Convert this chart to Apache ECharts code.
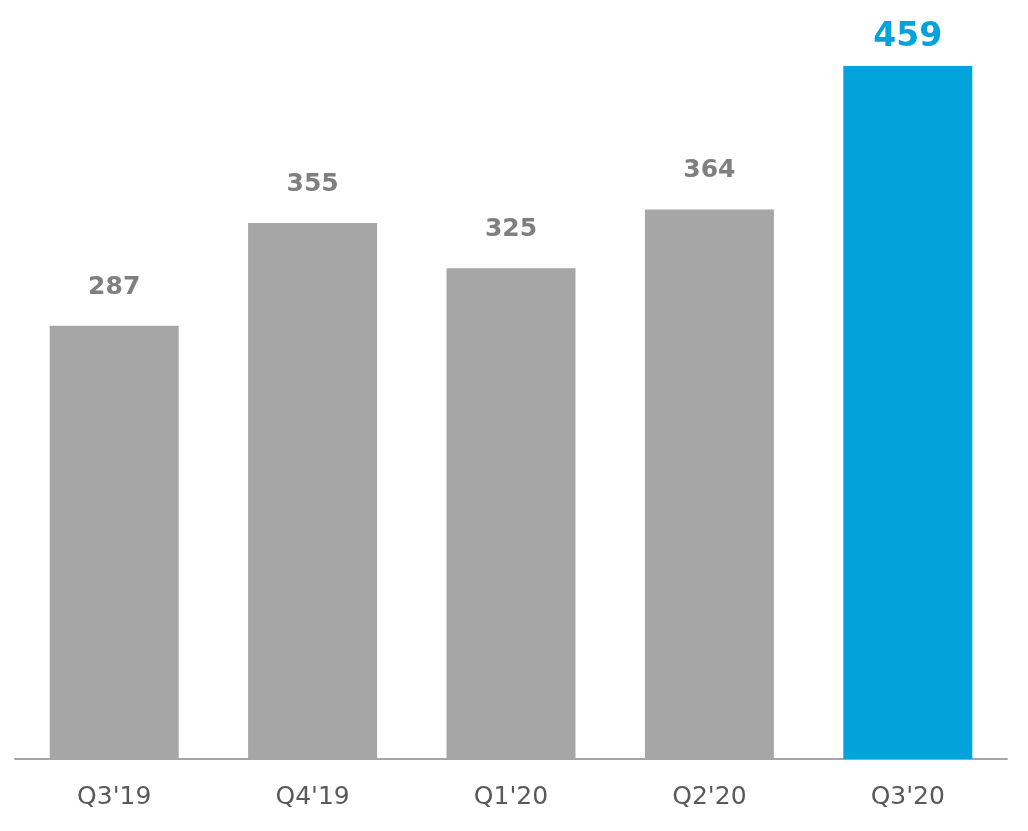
<!DOCTYPE html>
<html><head><meta charset="utf-8">
<script src="https://cdn.jsdelivr.net/npm/echarts@6/dist/echarts.min.js"></script>
<style>html,body{margin:0;padding:0;background:#fff}#c{width:1028px;height:831px}</style>
</head><body><div id="c"></div>
<script>
const categories = ["Q3'19", "Q4'19", "Q1'20", "Q2'20", "Q3'20"];
const values = [287, 355, 325, 364, 459];
const highlightIndex = 4;

const chart = echarts.init(document.getElementById('c'));
const data = values.map((v, i) => {
  const hi = i === highlightIndex;
  return {
    value: v,
    itemStyle: { color: hi ? '#00a3db' : '#a6a6a6' },
    label: hi ? { fontSize: 33, color: '#00a3db', distance: 12 } : { fontSize: 25, color: '#7f7f7f', distance: 26 }
  };
});
chart.setOption({
  animation: false,
  grid: { left: 15, right: 21, top: 66, bottom: 72 },
  xAxis: {
    type: 'category', data: categories,
    axisLine: { lineStyle: { color: '#a6a6a6', width: 2 } },
    axisTick: { show: false },
    axisLabel: { fontFamily: 'DejaVu Sans', fontSize: 25, color: '#595959', margin: 26 }
  },
  yAxis: { type: 'value', min: 0, max: 459, show: false, splitLine: { show: false } },
  series: [{
    type: 'bar', data: data, barWidth: '65%',
    label: { show: true, position: 'top', fontFamily: 'DejaVu Sans', fontWeight: 'bold' }
  }]
});
</script></body></html>
